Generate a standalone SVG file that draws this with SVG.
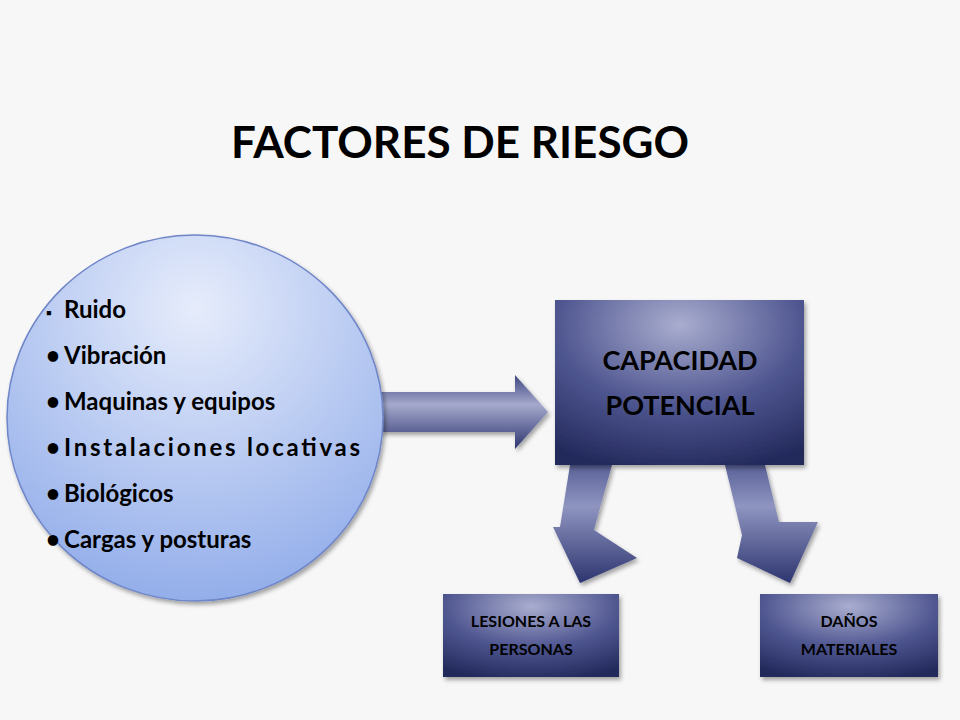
<svg xmlns="http://www.w3.org/2000/svg" width="960" height="720" viewBox="0 0 960 720">
<defs>
<radialGradient id="gBox" cx="0.5" cy="0.15" r="0.9">
<stop offset="0" stop-color="#a9adcf"/><stop offset="0.55" stop-color="#4f5690"/><stop offset="1" stop-color="#232a5c"/>
</radialGradient>
<radialGradient id="gCirc" cx="0.5" cy="0.2" r="0.8">
<stop offset="0" stop-color="#e6ecfb"/><stop offset="1" stop-color="#93aeea"/>
</radialGradient>
<linearGradient id="gArr" x1="0" y1="0" x2="0" y2="1">
<stop offset="0" stop-color="#3e4680"/><stop offset="0.4" stop-color="#a4a9cc"/><stop offset="1" stop-color="#2e3570"/>
</linearGradient>
<linearGradient id="gDown" x1="0" y1="0" x2="0" y2="1">
<stop offset="0" stop-color="#5a6198"/><stop offset="0.35" stop-color="#8f95c0"/><stop offset="1" stop-color="#2e3570"/>
</linearGradient>
<filter id="sh" x="-10%" y="-10%" width="130%" height="130%"><feDropShadow dx="2" dy="3" stdDeviation="2" flood-opacity="0.35"/></filter>
</defs>
<style>
text{font-family:Lato,"Open Sans","Liberation Sans",sans-serif;font-weight:bold;fill:#000}
.it{font-size:24px}
.bx{font-size:27px;text-anchor:middle}
.sm{font-size:16px;text-anchor:middle}
</style>
<rect width="960" height="720" fill="#f7f7f8"/>
<text x="460" y="158" font-size="44" text-anchor="middle">FACTORES DE RIESGO</text>
<g id="connectors" filter="url(#sh)">
<path d="M380 392 H515 V375 L548 412 L515 449 V432 H380 Z" fill="url(#gArr)"/>
<path d="M570 465 H612 L594 530 L637 558 L580 583 L553 527 L560 527 Z" fill="url(#gDown)"/>
<path d="M725 465 H765 L779 522 L818 522 L790 583 L737 558 L742 535 Z" fill="url(#gDown)"/>
</g>
<g id="factores">
<ellipse cx="195" cy="418" rx="188" ry="183" fill="url(#gCirc)" stroke="#6f86c8" stroke-width="1.5" filter="url(#sh)"/>
<g class="it">
<text x="46" y="318" fill="#8a8a8a" font-size="14">▪</text><text x="64" y="318">Ruido</text>
<text x="46" y="364">•</text><text x="64" y="364">Vibración</text>
<text x="46" y="410">•</text><text x="64" y="410">Maquinas y equipos</text>
<text x="46" y="456">•</text><text x="64" y="456" textLength="296">Instalaciones locativas</text>
<text x="46" y="502">•</text><text x="64" y="502">Biológicos</text>
<text x="46" y="548">•</text><text x="64" y="548">Cargas y posturas</text>
</g>
</g>
<g id="capacidad">
<rect x="555" y="300" width="249" height="165" fill="url(#gBox)" filter="url(#sh)"/>
<text class="bx" x="680" y="370">CAPACIDAD</text>
<text class="bx" x="680" y="415">POTENCIAL</text>
</g>
<g id="lesiones">
<rect x="443" y="594" width="176" height="83" fill="url(#gBox)" filter="url(#sh)"/>
<text class="sm" x="531" y="627">LESIONES A LAS</text>
<text class="sm" x="531" y="655">PERSONAS</text>
</g>
<g id="danos">
<rect x="760" y="594" width="178" height="83" fill="url(#gBox)" filter="url(#sh)"/>
<text class="sm" x="849" y="627">DAÑOS</text>
<text class="sm" x="849" y="655">MATERIALES</text>
</g>
</svg>
